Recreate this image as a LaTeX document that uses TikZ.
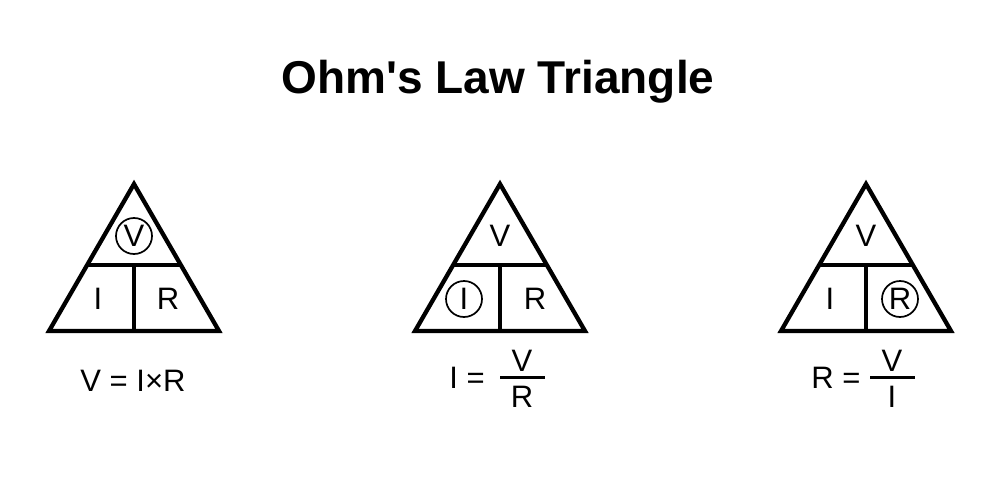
\documentclass[tikz,border=0pt]{standalone}
\usepackage{fontspec}
\setmainfont{Liberation Sans}
\begin{document}
\begin{tikzpicture}[x=1pt,y=-1pt,
  tri/.style={line width=4.3pt,line join=miter},
  lbl/.style={font=\fontsize{31}{31}\selectfont,inner sep=0pt},
  circled/.style={lbl,draw,circle,line width=1.7pt,minimum size=36pt},
  frm/.style={font=\fontsize{31}{31}\selectfont,inner sep=0pt,anchor=base}]
\useasboundingbox (0,0) rectangle (1000,500);
\node[font=\bfseries\fontsize{46}{46}\selectfont,anchor=base] (title) at (498,94) {Ohm\textquotesingle s Law Triangle};

\foreach \cx/\nm in {134/a,500/b,866/c}{
  \coordinate (\nm top) at (\cx,184);
  \coordinate (\nm bl) at (\cx-85,331);
  \coordinate (\nm br) at (\cx+85,331);
  \coordinate (\nm ml) at (\cx-47,265);
  \coordinate (\nm mr) at (\cx+47,265);
  \coordinate (\nm mc) at (\cx,265);
  \coordinate (\nm bc) at (\cx,331);
  \draw[tri] (\nm top) -- (\nm br) -- (\nm bl) -- cycle;
  \draw[tri,line cap=butt] (\nm ml) -- (\nm mr);
  \draw[tri,line width=3.8pt,line cap=butt] (\nm mc) -- (\nm bc);
}

% triangle 1
\node[circled] (aV) at (134,236) {V};
\node[lbl] (aI) at (98,299) {I};
\node[lbl] (aR) at (168,299) {R};
\node[frm] (f1) at (133,391) {V = I×R};

% triangle 2
\node[lbl] (bV) at (500,236) {V};
\node[circled] (bI) at (464,299) {I};
\node[lbl] (bR) at (535,299) {R};
\node[frm] (f2l) at (467,388) {I =};
\node[lbl] (f2n) at (522,361) {V};
\node[lbl] (f2d) at (522,397) {R};
\draw[line width=3pt] (500,377) -- (545,377);

% triangle 3
\node[lbl] (cV) at (866,236) {V};
\node[lbl] (cI) at (830,299) {I};
\node[circled] (cR) at (900,299) {R};
\node[frm] (f3l) at (836,388) {R =};
\node[lbl] (f3n) at (892,361) {V};
\node[lbl] (f3d) at (892,397) {I};
\draw[line width=3pt] (870,377) -- (915,377);
\end{tikzpicture}
\end{document}
